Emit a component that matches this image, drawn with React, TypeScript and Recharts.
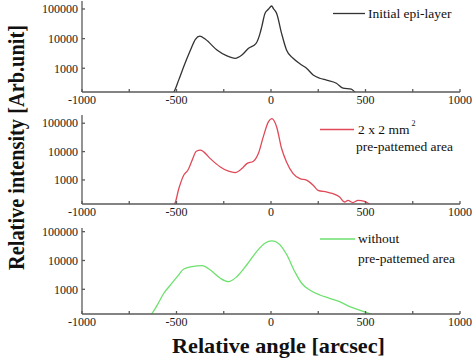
import React from "react";
import { LineChart, Line, XAxis, YAxis } from "recharts";

// x axis ticks (minor ones unlabelled)
const xTicks = [-1000, -750, -500, -250, 0, 250, 500, 750, 1000];
const xLabels = [-1000, -500, 0, 500, 1000];
const yTicks = [1000, 10000, 100000];

// Initial epi-layer
const epiAngle = [-530, -514, -488, -462, -426, -400, -377, -347, -286, -233, -189, -154, -119, -79, -58, -49, -32, -14, 4, 12, 30, 56, 82, 117, 162, 188, 223, 258, 293, 346, 381, 425, 442, 455];
const epiIntensity = [130, 158, 405, 1130, 4130, 9500, 12200, 9500, 4130, 2600, 2170, 2800, 4700, 6900, 15000, 25000, 71000, 98000, 126000, 105000, 71000, 15000, 4150, 2170, 1290, 1000, 595, 460, 400, 313, 212, 196, 160, 130];

// 2 x 2 mm2 pre-patterned area
const patAngle = [-530, -510, -488, -462, -440, -417, -395, -374, -356, -321, -268, -225, -189, -154, -128, -93, -67, -41, -14, 4, 30, 56, 82, 117, 153, 188, 223, 249, 293, 328, 363, 389, 407, 433, 460, 495, 521, 535];
const patIntensity = [120, 142, 490, 1470, 2200, 5000, 10300, 11200, 9800, 5660, 2880, 2030, 1810, 2510, 3770, 4580, 8500, 33000, 112000, 145000, 74000, 12800, 4320, 1670, 1110, 980, 650, 430, 377, 328, 250, 167, 190, 160, 190, 177, 142, 120];

// without pre-patterned area
const noPatAngle = [-650, -633, -602, -567, -532, -496, -461, -418, -365, -321, -268, -225, -181, -129, -76, -32, 4, 38, 82, 126, 162, 205, 258, 311, 363, 416, 468, 503, 529, 545];
const noPatIntensity = [120, 139, 284, 730, 1410, 2740, 5040, 6090, 6600, 4680, 2410, 1840, 2740, 6960, 20400, 39700, 47600, 39700, 16500, 4080, 1620, 950, 635, 487, 372, 250, 190, 159, 139, 120];

const serif = '"Liberation Serif", "Times New Roman", "DejaVu Serif", serif';
const axisColor = "#5a5a5a";
const tickStyle = { fill: "#1a1a1a", fontSize: 12, style: { fontFamily: serif } };

interface PanelProps {
  top: number;
  height: number;
  marginTop: number;
  domain: [number, number];
  angle: number[];
  intensity: number[];
  color: string;
}

function Panel({ top, height, marginTop, domain, angle, intensity, color }: PanelProps) {
  const data = angle.map((a, i) => ({ angle: a, value: intensity[i] }));
  return (
    <div style={{ position: "absolute", left: 0, top }}>
      <LineChart
        width={474}
        height={height}
        data={data}
        margin={{ top: marginTop, right: 14, bottom: 0, left: 0 }}
        style={{ fontFamily: serif }}
      >
        <XAxis
          dataKey="angle"
          type="number"
          domain={[-1000, 1000]}
          ticks={xTicks}
          interval={0}
          tickFormatter={(v: number) => (xLabels.includes(v) ? String(v) : "")}
          height={25}
          tickSize={-3}
          tickMargin={6}
          stroke={axisColor}
          strokeWidth={1.3}
          tick={tickStyle}
          allowDataOverflow
        />
        <XAxis
          xAxisId="top"
          orientation="top"
          type="number"
          domain={[0, 1]}
          tick={false}
          tickLine={false}
          height={0}
          stroke={axisColor}
          strokeWidth={1.3}
        />
        <YAxis
          scale="log"
          type="number"
          domain={domain}
          ticks={yTicks}
          interval={0}
          allowDataOverflow
          width={82}
          tickSize={-3}
          tickMargin={7}
          stroke={axisColor}
          strokeWidth={1.3}
          tick={tickStyle}
        />
        <YAxis
          yAxisId="right"
          orientation="right"
          type="number"
          domain={[0, 1]}
          tick={false}
          tickLine={false}
          width={0}
          stroke={axisColor}
          strokeWidth={1.3}
        />
        <Line
          type="monotone"
          dataKey="value"
          stroke={color}
          strokeWidth={1.3}
          dot={false}
          isAnimationActive={false}
        />
      </LineChart>
    </div>
  );
}

const legendText = { fontSize: 13.5, fill: "#111", style: { fontFamily: serif } };
const titleStyle = { fontFamily: serif, fontWeight: "bold" as const };

export default function App() {
  return (
    <div style={{ position: "absolute", left: 0, top: 0, width: 474, height: 361, background: "#fff", fontFamily: serif }}>
      <Panel top={0} height={117} marginTop={1} domain={[158, 186000]} angle={epiAngle} intensity={epiIntensity} color="#333333" />
      <Panel top={112} height={117} marginTop={3} domain={[142, 195000]} angle={patAngle} intensity={patIntensity} color="#e04a58" />
      <Panel top={225} height={114} marginTop={3} domain={[139, 134000]} angle={noPatAngle} intensity={noPatIntensity} color="#6ee06e" />
      <svg width={474} height={361} style={{ position: "absolute", left: 0, top: 0, pointerEvents: "none", fontFamily: serif }}>
        <line x1={333} y1={13.5} x2={365} y2={13.5} stroke="#333333" strokeWidth={1.3} />
        <text x={368} y={18} {...legendText}>Initial epi-layer</text>

        <line x1={320} y1={129.5} x2={354} y2={129.5} stroke="#e04a58" strokeWidth={1.3} />
        <text x={358} y={134} {...legendText}>
          2 x 2 mm
          <tspan dx={2} dy={-8} fontSize={8}>2</tspan>
        </text>
        <text x={356} y={151} {...legendText}>pre-pattemed area</text>

        <line x1={320} y1={239} x2={355} y2={239} stroke="#6ee06e" strokeWidth={1.3} />
        <text x={358} y={243} {...legendText}>without</text>
        <text x={358} y={262.5} {...legendText}>pre-pattemed area</text>

        <text
          x={278.5}
          y={353}
          textAnchor="middle"
          style={titleStyle}
          fontSize={22}
          textLength={213}
          lengthAdjust="spacingAndGlyphs"
          fill="#111"
        >
          Relative angle [arcsec]
        </text>
        <text
          x={24}
          y={147.5}
          transform="rotate(-90, 24, 147.5)"
          textAnchor="middle"
          style={titleStyle}
          fontSize={23}
          textLength={245}
          lengthAdjust="spacingAndGlyphs"
          fill="#111"
        >
          Relative intensity [Arb.unit]
        </text>
      </svg>
    </div>
  );
}
